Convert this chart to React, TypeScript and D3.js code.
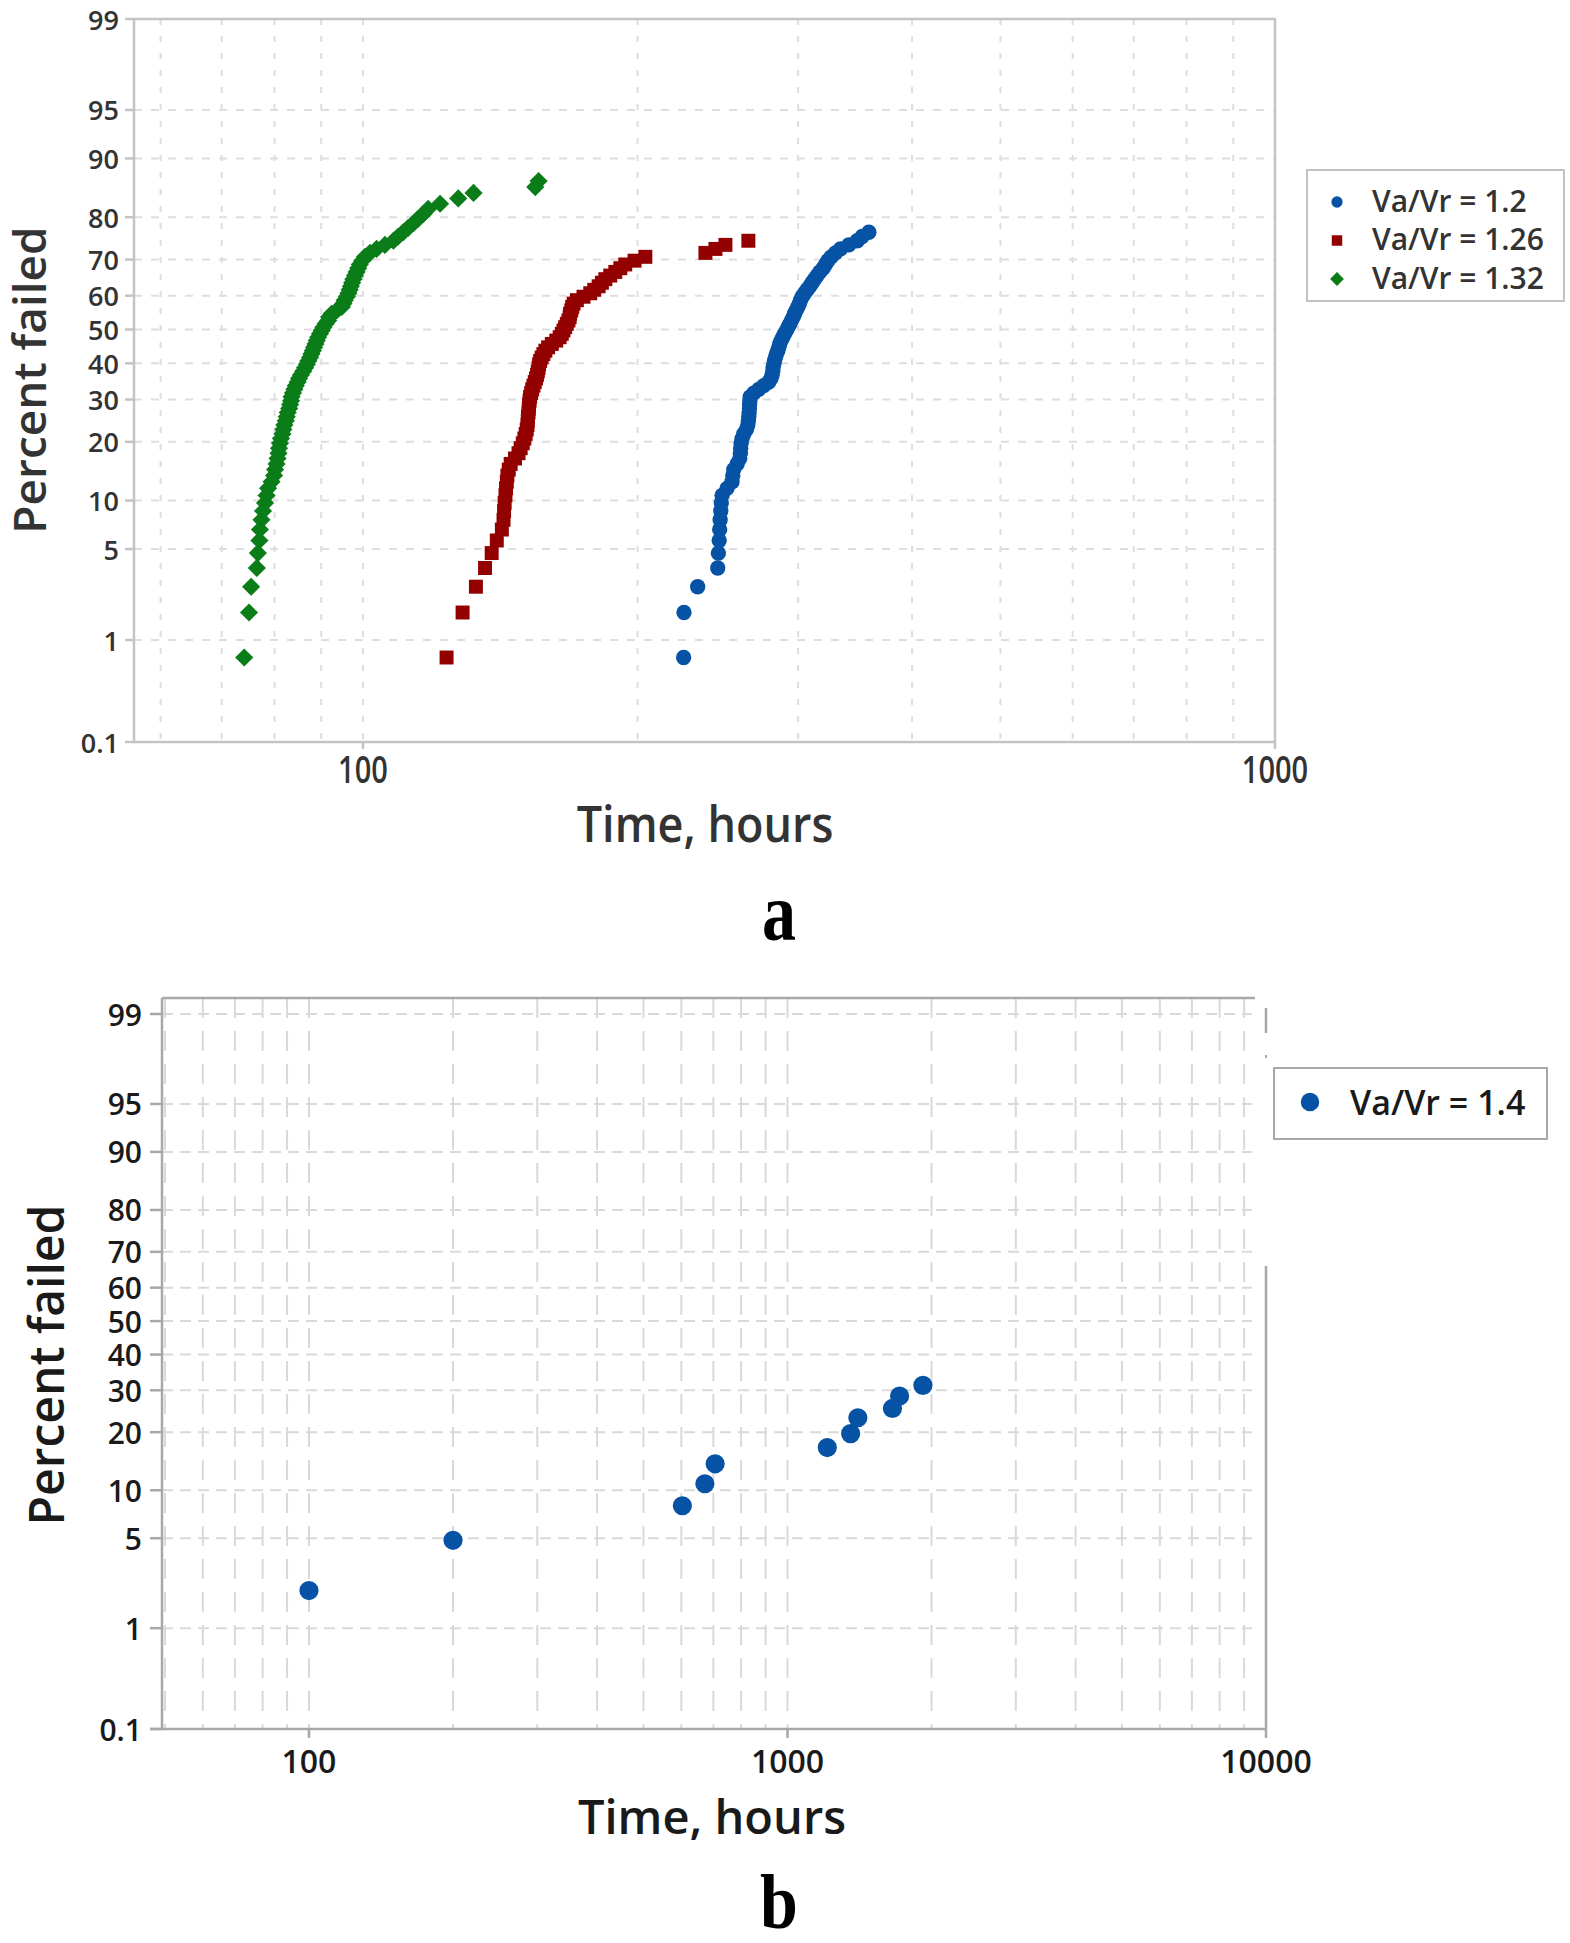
import React from "react";
import * as d3 from "d3";

// ---------- DATA ----------
// plotting positions (percent failed) for successive failures
const rankPercent = [
  0.7, 1.7, 2.7, 3.7, 4.7, 5.7, 6.7, 7.7, 8.7, 9.7, 10.7, 11.7, 12.7, 13.7, 14.7, 15.7, 16.7, 17.7, 18.7, 19.7,
  20.7, 21.7, 22.7, 23.7, 24.7, 25.7, 26.7, 27.7, 28.7, 29.7, 30.7, 31.7, 32.7, 33.7, 34.7, 35.7, 36.7, 37.7, 38.7, 39.7,
  40.7, 41.7, 42.7, 43.7, 44.7, 45.7, 46.7, 47.7, 48.7, 49.7, 50.7, 51.7, 52.7, 53.7, 54.7, 55.7, 56.7, 57.7, 58.7, 59.7,
  60.7, 61.7, 62.7, 63.7, 64.7, 65.7, 66.7, 67.7, 68.7, 69.7, 70.7, 71.7, 72.7, 73.7, 74.7, 75.7, 76.7, 77.7, 78.7, 79.7,
  80.7, 81.7, 82.7, 83.7, 84.7, 85.7, 86.7,
];

// Va/Vr = 1.2 (blue)
const timeVa12 = [
  224.7, 224.9, 232.8, 244.9, 245.3, 245.8, 246.1, 246.4, 246.8, 247.1, 247.6, 250.7, 253.9, 254.4, 255.0, 257.2, 258.9, 259.3, 259.5, 259.8,
  260.4, 261.5, 263.3, 264.2, 264.6, 264.9, 265.1, 265.3, 265.4, 265.6, 265.8, 268.2, 271.6, 275.1, 278.6, 280.2, 280.9, 281.4, 281.6, 282.1,
  282.6, 283.3, 284.0, 285.0, 285.7, 286.4, 287.4, 288.6, 289.8, 291.3, 292.5, 293.8, 295.0, 296.3, 297.3, 298.5, 299.8, 301.0, 301.8, 303.1,
  304.9, 306.9, 309.0, 310.8, 312.7, 314.8, 316.9, 319.6, 321.5, 323.4, 326.1, 329.7, 333.9, 341.0, 348.3, 352.7, 358.7,
];

// Va/Vr = 1.26 (red)
const timeVa126 = [
  123.5, 128.6, 133.0, 136.1, 138.4, 140.2, 142.0, 142.6, 142.8, 143.0, 143.3, 143.5, 143.8, 144.0, 144.5, 145.2, 146.8, 148.1, 148.9, 149.7,
  150.3, 150.8, 151.2, 151.5, 151.6, 151.7, 151.9, 152.0, 152.1, 152.3, 152.5, 152.9, 153.3, 153.8, 154.3, 154.8, 155.2, 155.5, 155.8, 156.0,
  156.4, 157.0, 157.7, 158.5, 159.6, 161.1, 162.9, 164.3, 165.2, 165.9, 166.6, 167.3, 168.0, 168.5, 168.7, 169.2, 169.6, 170.2, 171.6, 174.5,
  177.5, 179.3, 181.3, 182.8, 184.4, 186.7, 189.1, 191.5, 193.9, 198.5, 204.0, 237.4, 243.5, 249.7, 264.6,
];

// Va/Vr = 1.32 (green)
const timeVa132 = [
  74.1, 75.0, 75.4, 76.5, 76.7, 77.0, 77.1, 77.4, 77.7, 78.1, 78.4, 78.7, 79.4, 79.9, 80.1, 80.4, 80.6, 80.8, 80.9, 81.1,
  81.3, 81.6, 81.8, 82.0, 82.3, 82.5, 82.7, 83.0, 83.2, 83.4, 83.5, 83.8, 84.1, 84.4, 84.8, 85.1, 85.5, 86.0, 86.4, 86.8,
  87.1, 87.5, 87.8, 88.1, 88.4, 88.7, 89.0, 89.3, 89.7, 90.1, 90.5, 91.0, 91.6, 91.8, 92.4, 93.6, 94.8, 95.2, 95.5, 96.0,
  96.4, 96.7, 97.0, 97.3, 97.6, 98.0, 98.4, 98.8, 99.2, 99.8, 100.5, 101.8, 103.5, 105.7, 108.0, 109.3, 110.7, 112.1, 113.6, 115.0,
  116.5, 117.9, 121.5, 127.2, 132.2, 154.5, 155.8,
];

// Va/Vr = 1.4 (panel b)
const timeVa14 = [100, 200, 603, 672, 706, 1211, 1355, 1403, 1657, 1715, 1919];
const pctVa14 = [2.06, 4.84, 8.09, 10.89, 13.98, 16.9, 19.7, 23.2, 25.4, 28.5, 31.3];

const legendA = ["Va/Vr = 1.2", "Va/Vr = 1.26", "Va/Vr = 1.32"];
const legendB = ["Va/Vr = 1.4"];

const yTickValues = [0.1, 1, 5, 10, 20, 30, 40, 50, 60, 70, 80, 90, 95, 99];
const yGridValues = [1, 5, 10, 20, 30, 40, 50, 60, 70, 80, 90, 95];
const xGridA = [60, 70, 80, 90, 100, 200, 300, 400, 500, 600, 700, 800, 900];
const xTicksA = [100, 1000];
const xGridB = [50, 60, 70, 80, 90, 100, 200, 300, 400, 500, 600, 700, 800, 900, 1000, 2000, 3000, 4000, 5000, 6000, 7000, 8000, 9000];
const xTicksB = [100, 1000, 10000];

// ---------- helpers ----------
function probit(p: number): number {
  const a = [-3.969683028665376e1, 2.209460984245205e2, -2.759285104469687e2, 1.38357751867269e2, -3.066479806614716e1, 2.506628277459239];
  const b = [-5.447609879822406e1, 1.615858368580409e2, -1.556989798598866e2, 6.680131188771972e1, -1.328068155288572e1];
  const c = [-7.784894002430293e-3, -3.223964580411365e-1, -2.400758277161838, -2.549671324906549, 4.374664141464968, 2.938163982698783];
  const d = [7.784695709041462e-3, 3.224671290700398e-1, 2.445134137142996, 3.754408661907416];
  const plow = 0.02425;
  if (p < plow) {
    const q = Math.sqrt(-2 * Math.log(p));
    return (((((c[0] * q + c[1]) * q + c[2]) * q + c[3]) * q + c[4]) * q + c[5]) / ((((d[0] * q + d[1]) * q + d[2]) * q + d[3]) * q + 1);
  }
  if (p <= 1 - plow) {
    const q = p - 0.5;
    const r = q * q;
    return ((((((a[0] * r + a[1]) * r + a[2]) * r + a[3]) * r + a[4]) * r + a[5]) * q) / (((((b[0] * r + b[1]) * r + b[2]) * r + b[3]) * r + b[4]) * r + 1);
  }
  const q = Math.sqrt(-2 * Math.log(1 - p));
  return -(((((c[0] * q + c[1]) * q + c[2]) * q + c[3]) * q + c[4]) * q + c[5]) / ((((d[0] * q + d[1]) * q + d[2]) * q + d[3]) * q + 1);
}

const FONT = "'Open Sans', 'Noto Sans', 'DejaVu Sans', sans-serif";
const SERIF = "'Liberation Serif', 'Times New Roman', serif";

const BLUE = "#0653a6";
const RED = "#930000";
const GREEN = "#0a7d18";

const circlePath = d3.symbol().type(d3.symbolCircle).size(185)()!;
const squarePath = d3.symbol().type(d3.symbolSquare).size(195)()!;
const diamondPath = d3.symbol().type(d3.symbolSquare).size(165)()!;
const circleLeg = d3.symbol().type(d3.symbolCircle).size(100)()!;
const squareLeg = d3.symbol().type(d3.symbolSquare).size(110)()!;
const diamondLeg = d3.symbol().type(d3.symbolSquare).size(95)()!;
const circleB = d3.symbol().type(d3.symbolCircle).size(290)()!;
const circleLegB = d3.symbol().type(d3.symbolCircle).size(270)()!;

export default function App() {
  // ---- Panel a scales ----
  const A = { left: 134, right: 1275, top: 19, bottom: 742 };
  const xA = d3.scaleLog().domain([56.1, 1000]).range([A.left, A.right]);
  const zA = d3.scaleLinear().domain([probit(0.001), probit(0.99)]).range([A.bottom, A.top]);
  const yA = (p: number) => zA(probit(p / 100));

  // ---- Panel b scales ----
  const B = { left: 162, right: 1266, frameTop: 998, bottom: 1729 };
  const xB = d3.scaleLog().domain([49.3, 10000]).range([B.left, B.right]);
  const zB = d3.scaleLinear().domain([probit(0.001), probit(0.99)]).range([B.bottom, 1014]);
  const yB = (p: number) => zB(probit(p / 100));

  const seriesA = [
    { name: legendA[0], times: timeVa12, color: BLUE, path: circlePath, leg: circleLeg, rot: 0 },
    { name: legendA[1], times: timeVa126, color: RED, path: squarePath, leg: squareLeg, rot: 0 },
    { name: legendA[2], times: timeVa132, color: GREEN, path: diamondPath, leg: diamondLeg, rot: 45 },
  ];

  const gridA = "#dedede";
  const axisA = "#c4c4c4";
  const gridB = "#d9d9d9";
  const axisB = "#a8a8a8";

  return (
    <svg
      width={1570}
      height={1943}
      viewBox="0 0 1570 1943"
      style={{ position: "absolute", left: 0, top: 0, background: "#fff" }}
    >
      <rect x={0} y={0} width={1570} height={1943} fill="#fff" />

      {/* ================= PANEL A ================= */}
      <g>
        {xGridA.map((v) => (
          <line key={"gxa" + v} x1={xA(v)} x2={xA(v)} y1={A.top} y2={A.bottom} stroke={gridA} strokeWidth={2} strokeDasharray="6,11" />
        ))}
        {yGridValues.map((v) => (
          <line key={"gya" + v} x1={A.left} x2={A.right} y1={yA(v)} y2={yA(v)} stroke={gridA} strokeWidth={2} strokeDasharray="8,9" />
        ))}
        {/* frame */}
        <rect x={A.left} y={A.top} width={A.right - A.left} height={A.bottom - A.top} fill="none" stroke={axisA} strokeWidth={2.5} />
        {/* y ticks */}
        {yTickValues.map((v) => (
          <g key={"yta" + v}>
            <line x1={A.left - 9} x2={A.left} y1={yA(v)} y2={yA(v)} stroke={axisA} strokeWidth={2.5} />
            <text x={119} y={yA(v)} textAnchor="end" dominantBaseline="central" fontFamily={FONT} fontSize={27} fontWeight={600} fill="#333">
              {v}
            </text>
          </g>
        ))}
        {/* x ticks */}
        {xTicksA.map((v) => (
          <g key={"xta" + v}>
            <line x1={xA(v)} x2={xA(v)} y1={A.bottom} y2={A.bottom + 7} stroke={axisA} strokeWidth={2.5} />
            <text transform={`translate(${xA(v)},${783}) scale(1,1.3)`} textAnchor="middle" fontFamily={FONT} fontSize={29} fontWeight={600} fill="#333">
              {v}
            </text>
          </g>
        ))}
        {/* axis titles */}
        <text transform="translate(705,842) scale(1,1.12)" textAnchor="middle" fontFamily={FONT} fontSize={45} fontWeight={600} fill="#333">
          Time, hours
        </text>
        <text transform="translate(46,380) rotate(-90)" textAnchor="middle" fontFamily={FONT} fontSize={46} fontWeight={600} fill="#333">
          Percent failed
        </text>

        {/* points */}
        {seriesA.map((s) => (
          <g key={s.name} fill={s.color}>
            {s.times.map((t, i) => (
              <path
                key={i}
                d={s.path}
                transform={`translate(${xA(t)},${yA(rankPercent[i])}) rotate(${s.rot})`}
              />
            ))}
          </g>
        ))}

        {/* legend */}
        <rect x={1307} y={170} width={257} height={131} fill="#fff" stroke="#c2c2c2" strokeWidth={2} />
        {seriesA.map((s, i) => {
          const cy = 200 + i * 38.5;
          return (
            <g key={"lega" + i}>
              <path d={s.leg} fill={s.color} transform={`translate(1337,${cy + 2}) rotate(${s.rot})`} />
              <text x={1372} y={cy} dominantBaseline="central" fontFamily={FONT} fontSize={30} fontWeight={600} fill="#333">
                {s.name}
              </text>
            </g>
          );
        })}

        <text transform="translate(779,940) scale(1,1.22)" textAnchor="middle" fontFamily={SERIF} fontSize={68} fontWeight={700} fill="#000">
          a
        </text>
      </g>

      {/* ================= PANEL B ================= */}
      <g>
        {xGridB.map((v) => (
          <line key={"gxb" + v} x1={xB(v)} x2={xB(v)} y1={B.frameTop} y2={B.bottom} stroke={gridB} strokeWidth={2} strokeDasharray="20,13" />
        ))}
        {yTickValues.filter((v) => v !== 0.1).map((v) => (
          <line key={"gyb" + v} x1={B.left} x2={1252} y1={yB(v)} y2={yB(v)} stroke={gridB} strokeWidth={2} strokeDasharray="11,7" />
        ))}
        {/* frame */}
        <line x1={B.left} x2={1255} y1={B.frameTop} y2={B.frameTop} stroke={axisB} strokeWidth={2.5} />
        <line x1={B.left} x2={B.left} y1={B.frameTop} y2={B.bottom} stroke={axisB} strokeWidth={2.5} />
        <line x1={B.left - 12} x2={B.right} y1={B.bottom} y2={B.bottom} stroke={axisB} strokeWidth={2.5} />
        <line x1={B.right} x2={B.right} y1={1008} y2={1033} stroke={axisB} strokeWidth={2.5} />
        <rect x={B.right - 1} y={1055} width={2} height={3} fill={axisB} />
        <line x1={B.right} x2={B.right} y1={1266} y2={B.bottom} stroke={axisB} strokeWidth={2.5} />
        {/* y ticks */}
        {yTickValues.map((v) => (
          <g key={"ytb" + v}>
            <line x1={B.left - 12} x2={B.left} y1={yB(v)} y2={yB(v)} stroke={axisB} strokeWidth={2.5} />
            <text x={142} y={yB(v)} textAnchor="end" dominantBaseline="central" fontFamily={FONT} fontSize={30} fontWeight={600} fill="#1a1a1a">
              {v}
            </text>
          </g>
        ))}
        {/* x ticks */}
        {xTicksB.map((v) => (
          <g key={"xtb" + v}>
            <line x1={xB(v)} x2={xB(v)} y1={B.bottom} y2={B.bottom + 9} stroke={axisB} strokeWidth={2.5} />
            <text x={xB(v)} y={1773} textAnchor="middle" fontFamily={FONT} fontSize={32} fontWeight={600} fill="#1a1a1a">
              {v}
            </text>
          </g>
        ))}
        <text x={712} y={1834} textAnchor="middle" fontFamily={FONT} fontSize={47} fontWeight={600} fill="#1a1a1a">
          Time, hours
        </text>
        <text transform="translate(64,1365) rotate(-90)" textAnchor="middle" fontFamily={FONT} fontSize={48} fontWeight={600} fill="#1a1a1a">
          Percent failed
        </text>

        {/* points */}
        <g fill={BLUE}>
          {timeVa14.map((t, i) => (
            <path key={i} d={circleB} transform={`translate(${xB(t)},${yB(pctVa14[i])})`} />
          ))}
        </g>

        {/* legend */}
        <rect x={1274} y={1068} width={273} height={71} fill="#fff" stroke="#a8a8a8" strokeWidth={2} />
        <path d={circleLegB} fill={BLUE} transform="translate(1310,1102)" />
        <text x={1350} y={1102} dominantBaseline="central" fontFamily={FONT} fontSize={34} fontWeight={600} fill="#1a1a1a">
          {legendB[0]}
        </text>

        <text transform="translate(779,1928) scale(1,1.15)" textAnchor="middle" fontFamily={SERIF} fontSize={68} fontWeight={700} fill="#000">
          b
        </text>
      </g>
    </svg>
  );
}
